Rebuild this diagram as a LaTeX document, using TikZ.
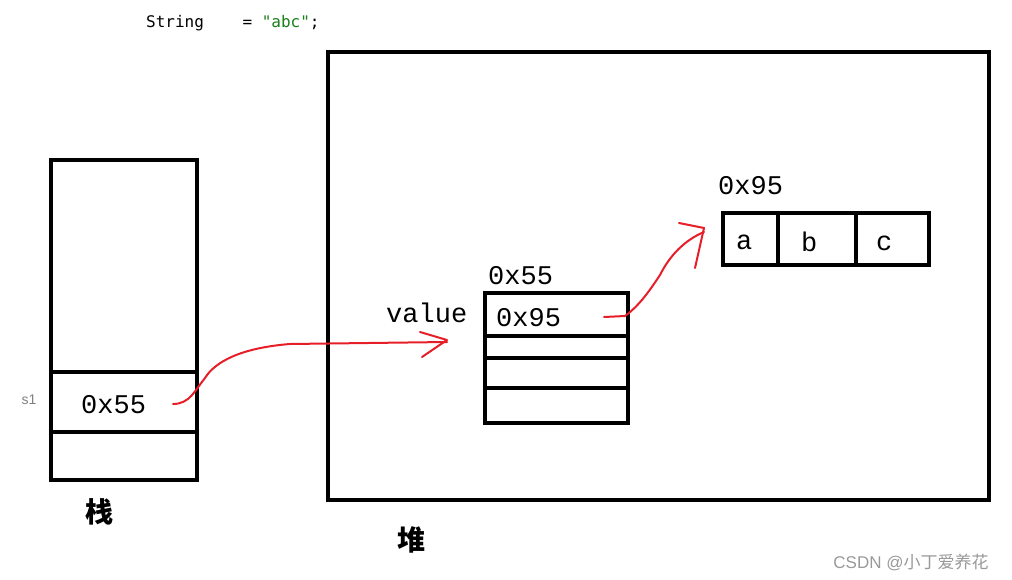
\documentclass[tikz,border=0pt]{standalone}
\usepackage{fontspec}
\setmainfont{Liberation Serif}
\setmonofont{DejaVu Sans Mono}
\newfontfamily\cjk{Noto Sans CJK SC}
\newfontfamily\sans{Liberation Sans}
\newfontfamily\labmono{Liberation Mono}
\begin{document}
\begin{tikzpicture}[x=1pt,y=-1pt,
  box/.style={draw,line width=3.5pt},
  red/.style={draw={rgb,255:red,230;green,30;blue,40},line width=2pt,line cap=round,line join=round},
  lab/.style={font=\labmono\fontsize{27}{27}\selectfont,anchor=west,inner sep=0pt}]
\useasboundingbox (0,0) rectangle (1012,580);
% top code
\node[anchor=west,inner sep=0pt] (code) at (146,23) {\ttfamily\fontsize{16}{16}\selectfont String\ \ \ \ = \textcolor[rgb]{0.1,0.5,0.1}{"abc"};};
% stack
\draw[box] (51,160) rectangle (197,480);
\draw[box] (51,372) -- (197,372) (51,432) -- (197,432);
\node[lab] (s) at (81,405) {0x55};
\node[font=\sans\fontsize{14}{14}\selectfont,text=gray] (s1) at (29,400) {s1};
\node[font=\cjk\bfseries\fontsize{28}{28}\selectfont] (zhan) at (99,512) {栈};
% heap
\draw[box] (328,52) rectangle (989,500);
\node[font=\cjk\bfseries\fontsize{28}{28}\selectfont] (dui) at (411,540) {堆};
% object
\draw[box] (485,293) rectangle (628,423);
\draw[box] (485,336) -- (628,336) (485,358) -- (628,358) (485,388) -- (628,388);
\node[lab] (o55) at (488,276) {0x55};
\node[lab] (val) at (386,313) {value};
\node[lab] (o95) at (496,318) {0x95};
% string
\draw[box] (723,213) rectangle (929,265);
\draw[box] (778,213) -- (778,265) (856,213) -- (856,265);
\node[lab] (a95) at (718,186) {0x95};
\node[lab] (ca) at (736,242) {a};
\node[lab] (cb) at (801,242) {b};
\node[lab] (cc) at (876,243) {c};
\node[font=\sans\fontsize{17}{17}\selectfont,text=gray!80] (wm) at (911,562) {CSDN @{\cjk 小丁爱养花}};
% red arrows
\draw[red] (173,404) .. controls (190,404) and (195,390) .. (205,378)
  .. controls (215,362) and (240,348) .. (290,344) -- (447,342);
\draw[red] (420,332) -- (447,340) -- (422,357);
\draw[red] (604,317) -- (625,316) .. controls (640,305) and (650,290) .. (660,275)
  .. controls (670,255) and (685,240) .. (704,232);
\draw[red] (679,223) -- (704,228) -- (695,268);
\end{tikzpicture}
\end{document}
